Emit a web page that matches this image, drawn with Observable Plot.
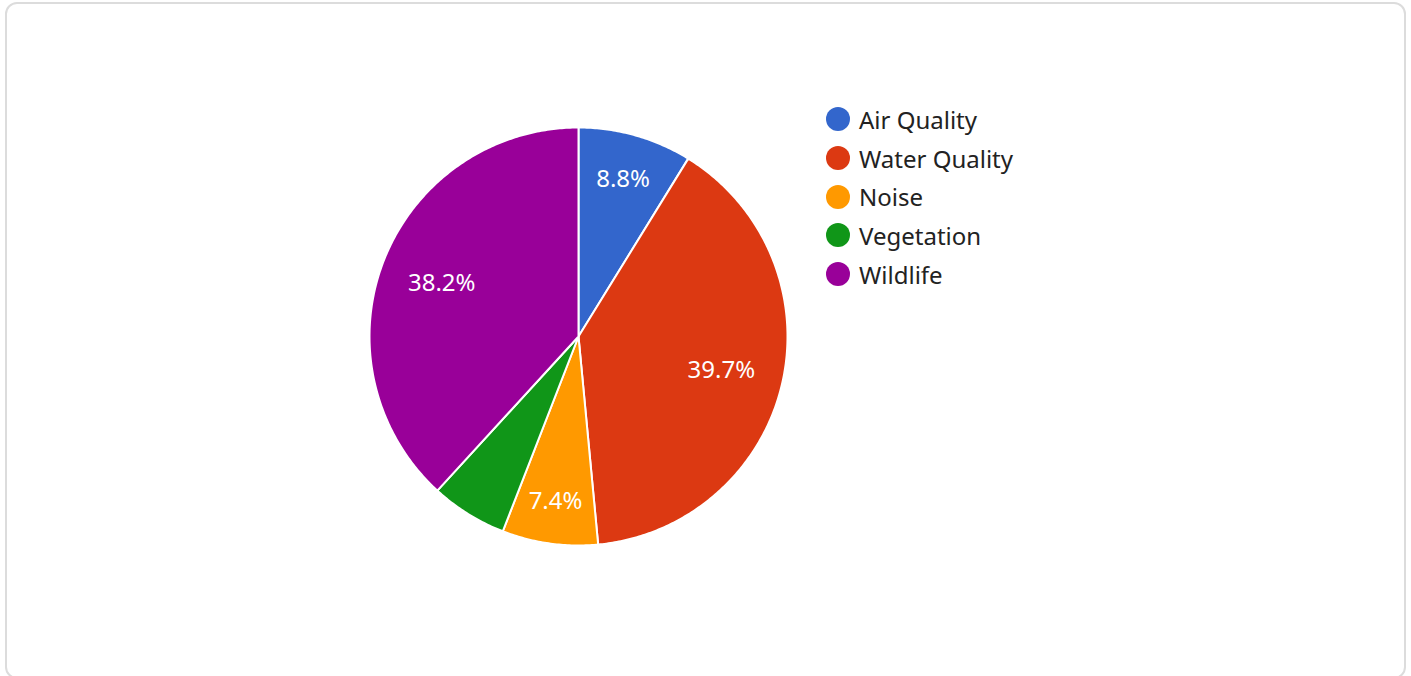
<!DOCTYPE html>
<html>
<head>
<meta charset="utf-8">
<script src="https://cdn.jsdelivr.net/npm/d3@7"></script>
<script src="https://cdn.jsdelivr.net/npm/@observablehq/plot@0.6"></script>
<style>
  html, body { margin: 0; padding: 0; background: #fff; overflow: hidden; }
  body { width: 1411px; height: 676px; position: relative; font-family: "Noto Sans", sans-serif; }
  #card { position: absolute; left: 5px; top: 2px; width: 1401px; height: 677px; border: 2px solid #dcdcdc; border-radius: 12px; box-sizing: border-box; }
  #chart { position: absolute; left: 0; top: 0; }
  #legend { position: absolute; left: 826px; top: 100px; }
  .item { display: flex; align-items: center; height: 38.7px; font-size: 24px; color: #222; }
  .sw { width: 24px; height: 24px; border-radius: 50%; margin-right: 9px; flex: none; }
</style>
</head>
<body>
<div id="card"></div>
<div id="chart"></div>
<div id="legend"></div>
<script>
const categories = ["Air Quality", "Water Quality", "Noise", "Vegetation", "Wildlife"];
const values = [8.8, 39.7, 7.4, 5.9, 38.2];
const colors = ["#3366cc", "#dc3912", "#ff9900", "#109618", "#990099"];

const data = categories.map((c, i) => ({category: c, value: values[i]}));
const arcs = d3.pie().value(d => d.value).sort(null)(data);

// polygon outlines for each slice (unit circle, angle measured clockwise from top)
const pts = [];
arcs.forEach(a => {
  const n = Math.max(2, Math.ceil((a.endAngle - a.startAngle) / 0.01));
  pts.push({category: a.data.category, x: 0, y: 0});
  for (let k = 0; k <= n; k++) {
    const t = a.startAngle + (a.endAngle - a.startAngle) * k / n;
    pts.push({category: a.data.category, x: Math.sin(t), y: Math.cos(t)});
  }
  pts.push({category: a.data.category, x: 0, y: 0});
});

const cx = 578, cy = 336, R = 209;
const labelFont = "24px 'Noto Sans'";
const ctx = document.createElement("canvas").getContext("2d");
ctx.font = labelFont;

// place each label along its mid-angle so its box's outer corner sits at 0.87 R
const labels = arcs.filter(a => a.data.value >= 7).map(a => {
  const text = a.data.value.toFixed(1) + "%";
  const t = (a.startAngle + a.endAngle) / 2;
  const s = Math.sin(t), c = Math.cos(t);
  const w = ctx.measureText(text).width, h = 20;
  const ax = Math.sign(s) * w / 2, by = Math.sign(c) * h / 2;
  const L = 0.87 * R;
  const p = s * ax + c * by;
  const d = -p + Math.sqrt(p * p - (ax * ax + by * by - L * L));
  return {text, x: (d / R) * s, y: (d / R) * c};
});

const plot = Plot.plot({
  width: 1411,
  height: 676,
  margin: 0,
  style: {fontFamily: "Noto Sans, sans-serif", background: "transparent"},
  x: {domain: [-1, 1], range: [cx - R, cx + R], axis: null},
  y: {domain: [-1, 1], range: [cy + R, cy - R], axis: null},
  color: {domain: categories, range: colors},
  marks: [
    Plot.line(pts, {x: "x", y: "y", z: "category", fill: "category", stroke: "white", strokeWidth: 2, strokeLinejoin: "round", curve: "linear"}),
    Plot.text(labels, {x: "x", y: "y", text: "text", fill: "white", fontSize: 24})
  ]
});
document.getElementById("chart").appendChild(plot);

const legend = document.getElementById("legend");
categories.forEach((c, i) => {
  const item = document.createElement("div");
  item.className = "item";
  const sw = document.createElement("span");
  sw.className = "sw";
  sw.style.background = colors[i];
  const tx = document.createElement("span");
  tx.textContent = c;
  item.appendChild(sw);
  item.appendChild(tx);
  legend.appendChild(item);
});
</script>
</body>
</html>
